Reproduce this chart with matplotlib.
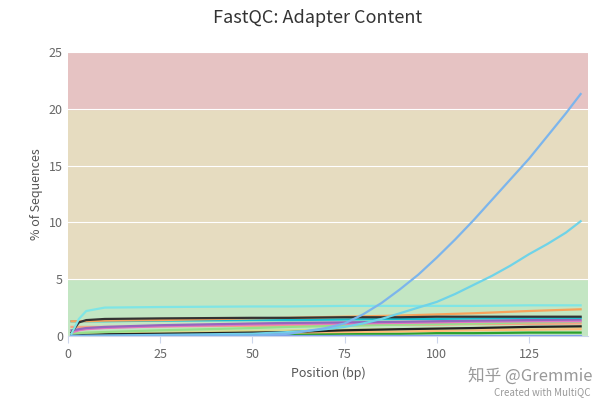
import matplotlib
matplotlib.use("Agg")
import matplotlib.pyplot as plt

plt.rcParams['font.family'] = ['Noto Sans CJK SC', 'DejaVu Sans']

positions = [1, 3, 5, 10, 25, 50, 60, 75, 90, 100, 110, 125, 139]
curve_positions = [1, 50, 60, 65, 70, 75, 80, 85, 90, 95, 100, 105, 110, 115, 120, 125, 130, 135, 139]
blue_high = [0, 0.05, 0.2, 0.45, 0.7, 1.1, 1.9, 2.9, 4.1, 5.4, 6.9, 8.5, 10.2, 12.0, 13.8, 15.6, 17.6, 19.6, 21.3]
cyan_high = [0, 0.2, 0.35, 0.45, 0.6, 0.8, 1.1, 1.5, 2.0, 2.5, 3.0, 3.7, 4.5, 5.3, 6.2, 7.2, 8.1, 9.1, 10.1]
cyan_flat = [0.2, 1.5, 2.2, 2.5, 2.55, 2.6, 2.6, 2.65, 2.65, 2.65, 2.65, 2.7, 2.7]
black1 = [0.3, 1.2, 1.4, 1.5, 1.55, 1.6, 1.6, 1.65, 1.65, 1.7, 1.7, 1.7, 1.7]
orange1 = [1.3, 1.3, 1.3, 1.35, 1.4, 1.55, 1.6, 1.7, 1.8, 1.9, 2.0, 2.2, 2.35]
teal1 = [1.3, 1.3, 1.3, 1.3, 1.35, 1.4, 1.4, 1.45, 1.5, 1.5, 1.55, 1.6, 1.6]
purple1 = [0.5, 0.6, 0.7, 0.8, 0.95, 1.1, 1.15, 1.2, 1.25, 1.3, 1.35, 1.4, 1.45]
pink1 = [0.3, 0.5, 0.6, 0.7, 0.85, 1.0, 1.05, 1.1, 1.15, 1.2, 1.25, 1.3, 1.3]
green1 = [0.2, 0.25, 0.3, 0.35, 0.5, 0.7, 0.8, 0.9, 1.0, 1.05, 1.1, 1.2, 1.25]
salmon1 = [0.8, 0.8, 0.8, 0.8, 0.85, 0.9, 0.9, 0.95, 1.0, 1.0, 1.05, 1.05, 1.1]
black2 = [0.1, 0.1, 0.1, 0.15, 0.2, 0.3, 0.35, 0.5, 0.6, 0.65, 0.7, 0.8, 0.85]
yellow1 = [0.1, 0.15, 0.2, 0.2, 0.3, 0.45, 0.5, 0.55, 0.6, 0.65, 0.7, 0.75, 0.8]
orange2 = [0.05, 0.1, 0.1, 0.15, 0.2, 0.3, 0.3, 0.35, 0.4, 0.45, 0.5, 0.55, 0.6]
green2 = [0.05, 0.05, 0.05, 0.05, 0.1, 0.15, 0.15, 0.2, 0.2, 0.25, 0.25, 0.3, 0.3]
blue_low = [0.02] * 13

series = [
    (salmon1, '#f4a582'), (green2, '#2ca02c'), (orange2, '#ffbb78'),
    (yellow1, '#dbdb8d'), (black2, '#222222'), (green1, '#98df8a'),
    (pink1, '#e377c2'), (purple1, '#9467bd'), (teal1, '#17becf'),
    (orange1, '#f7a35c'), (black1, '#333333'), (cyan_flat, '#7fe5e5'),
    (blue_low, '#7c9cec'),
]

fig = plt.figure(figsize=(6, 4), dpi=100)
ax = fig.add_axes([0.113, 0.16, 0.867, 0.71])
ax.axhspan(0, 5, color='#c3e6c3', zorder=0)
ax.axhspan(5, 20, color='#e6dcc0', zorder=0)
ax.axhspan(20, 25, color='#e6c3c3', zorder=0)
for vals, c in series:
    ax.plot(positions, vals, color=c, lw=1.6, zorder=2)
ax.plot(curve_positions, cyan_high, color='#6fd3e8', lw=1.6, zorder=3)
ax.plot(curve_positions, blue_high, color='#7cb5ec', lw=1.6, zorder=3)
ax.set_xlim(0, 141)
ax.set_ylim(0, 25)
ax.set_xticks([0, 25, 50, 75, 100, 125])
ax.set_yticks([0, 5, 10, 15, 20, 25])
ax.grid(axis='y', color='white', lw=0.8, zorder=1)
for s in ['top', 'right', 'left']:
    ax.spines[s].set_visible(False)
ax.spines['bottom'].set_color('#ccd6eb')
ax.tick_params(colors='#666666', labelsize=9, length=0)
ax.tick_params(axis='x', length=5, color='#ccd6eb')
ax.set_xlabel('Position (bp)', fontsize=9, color='#555555')
ax.set_ylabel('% of Sequences', fontsize=9, color='#555555')
fig.text(0.53, 0.955, 'FastQC: Adapter Content', ha='center', va='center', fontsize=13, color='#333333')
fig.text(0.78, 0.06, '知乎 @Gremmie', fontsize=12, color='#999999', va='center')
fig.text(0.985, 0.02, 'Created with MultiQC', fontsize=7, color='#999999', ha='right', va='center')
fig.savefig('out.png')
